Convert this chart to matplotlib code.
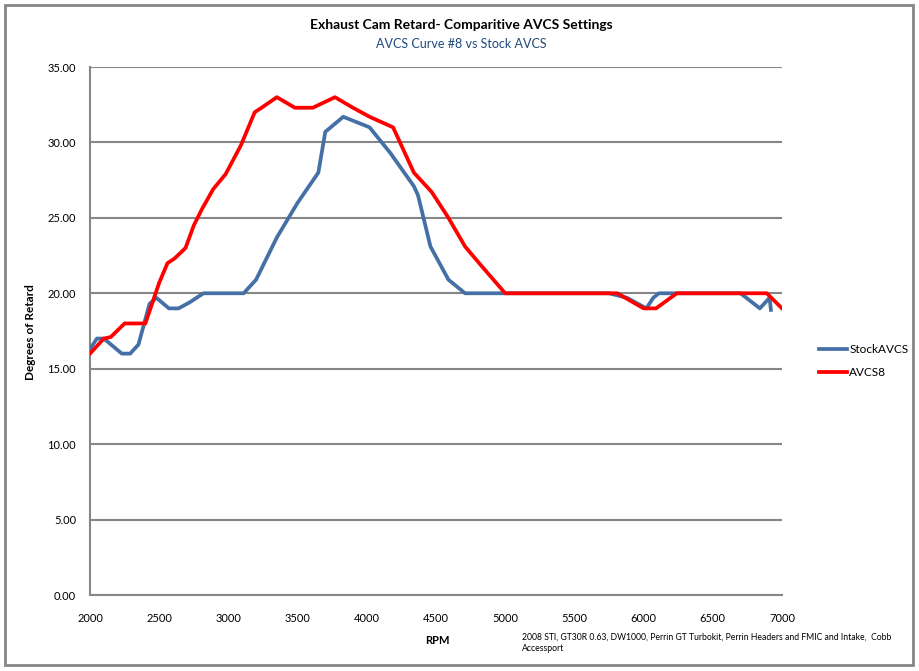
import matplotlib
matplotlib.use("Agg")
import matplotlib.pyplot as plt
from matplotlib.patches import Rectangle

plt.rcParams["font.family"] = ["Lato", "DejaVu Sans"]

# AVCS8 curve (red)
avcs8_rpm = [2000, 2100, 2150, 2250, 2400, 2500, 2560, 2610, 2690, 2750, 2810, 2890,
             2980, 3090, 3190, 3240, 3350, 3480, 3610, 3770, 3900, 4020, 4190, 4340,
             4470, 4590, 4710, 4830, 5000, 5810, 6000, 6090, 6240, 6890, 7000]
avcs8_deg = [16.0, 17.0, 17.1, 18.0, 18.0, 20.7, 22.0, 22.3, 23.0, 24.5, 25.6, 26.9,
             27.9, 29.8, 32.0, 32.3, 33.0, 32.3, 32.3, 33.0, 32.3, 31.7, 31.0, 28.0,
             26.7, 25.0, 23.1, 21.8, 20.0, 20.0, 19.0, 19.0, 20.0, 20.0, 19.0]

# Stock AVCS curve (blue)
stock_rpm = [2000, 2050, 2100, 2230, 2290, 2350, 2430, 2480, 2570, 2640, 2720, 2820,
             3110, 3200, 3350, 3500, 3650, 3700, 3830, 4020, 4170, 4340, 4370, 4460,
             4590, 4710, 5000, 5750, 5880, 6020, 6070, 6110, 6700, 6840, 6910, 6920]
stock_deg = [16.3, 17.0, 17.0, 16.0, 16.0, 16.6, 19.3, 19.7, 19.0, 19.0, 19.4, 20.0,
             20.0, 20.9, 23.7, 26.0, 28.0, 30.7, 31.7, 31.0, 29.3, 27.1, 26.5, 23.1,
             20.9, 20.0, 20.0, 20.0, 19.7, 19.0, 19.7, 20.0, 20.0, 19.0, 19.7, 18.9]

x_ticks = [2000, 2500, 3000, 3500, 4000, 4500, 5000, 5500, 6000, 6500, 7000]
y_ticks = [0, 5, 10, 15, 20, 25, 30, 35]

grey = "#868686"

fig = plt.figure(figsize=(9.2, 6.71), dpi=100)
fig.patches.append(Rectangle((5 / 920, 6 / 671), 908 / 920, 660 / 671,
                             transform=fig.transFigure, fill=False,
                             edgecolor=grey, linewidth=2))

ax = fig.add_axes([90 / 920, 76 / 671, 692 / 920, 528 / 671])
ax.plot(stock_rpm, stock_deg, color="#4470A6", linewidth=2.7, label="StockAVCS", zorder=3)
ax.plot(avcs8_rpm, avcs8_deg, color="#FF0000", linewidth=2.7, label="AVCS8", zorder=4)

ax.set_xlim(2000, 7000)
ax.set_ylim(0, 35)
ax.set_xticks(x_ticks)
ax.set_yticks(y_ticks)
ax.set_yticklabels([f"{v:.2f}" for v in y_ticks])
ax.tick_params(length=0, labelsize=8)
ax.tick_params(axis="x", pad=13)
ax.tick_params(axis="y", pad=10)
ax.grid(axis="y", color=grey, linewidth=1.5)
ax.set_axisbelow(True)
for s in ["top", "right"]:
    ax.spines[s].set_visible(False)
for s in ["left", "bottom"]:
    ax.spines[s].set_color(grey)
    ax.spines[s].set_linewidth(1.5)

fig.text(461 / 920, 1 - 25 / 671, "Exhaust Cam Retard- Comparitive AVCS Settings",
         ha="center", va="center", fontsize=10, fontweight="bold")
fig.text(461 / 920, 1 - 44 / 671, "AVCS Curve #8 vs Stock AVCS",
         ha="center", va="center", fontsize=9, color="#1F497D")
fig.text(437 / 920, 1 - 641 / 671, "RPM", ha="center", va="center",
         fontsize=8, fontweight="bold")
fig.text(31 / 920, 1 - 332 / 671, "Degrees of Retard", ha="center", va="center",
         rotation=90, fontsize=8.5, fontweight="bold")
fig.text(522 / 920, 1 - 643 / 671,
         "2008 STI, GT30R 0.63, DW1000, Perrin GT Turbokit, Perrin Headers and FMIC and Intake,  Cobb\nAccessport",
         ha="left", va="center", fontsize=6.2, linespacing=1.3)

fig.legend(loc="center left", bbox_to_anchor=(808 / 920, 1 - 361 / 671), frameon=False,
           fontsize=8.5, handlelength=2.4, handletextpad=0.2, labelspacing=1.0)

fig.savefig("out.png", dpi=100)
